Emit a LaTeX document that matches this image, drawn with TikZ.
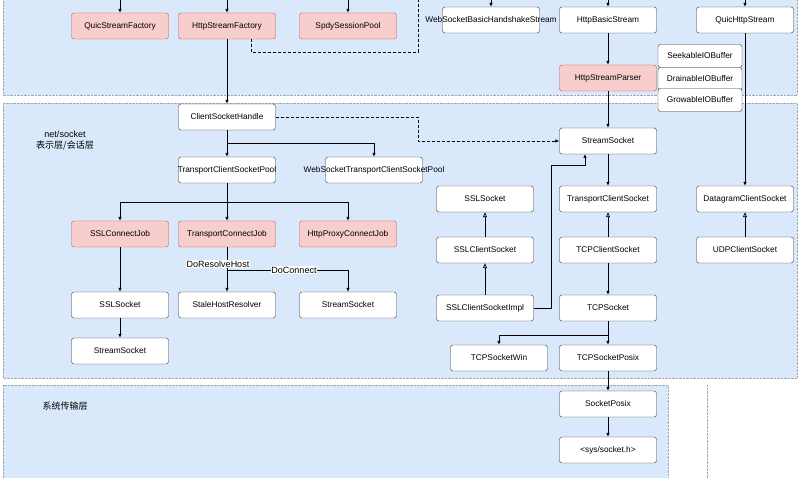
\documentclass[tikz,border=0pt]{standalone}
\usepackage{fontspec}
\setmainfont{Liberation Sans}
\newfontfamily\cjk{Noto Sans CJK SC}
\usetikzlibrary{arrows.meta}
\definecolor{regfill}{HTML}{DAE8FC}
\definecolor{pinkfill}{HTML}{F8CECC}
\definecolor{pinkdraw}{HTML}{B85450}
\begin{document}
\begin{tikzpicture}[x=1pt,y=-1pt,
  region/.style={draw=gray!70,densely dotted,fill=regfill},
  box/.style={draw=black!80,rounded corners=2.5pt,fill=white,minimum width=97pt,minimum height=26pt,inner sep=0pt,font=\fontsize{8.3}{10}\selectfont},
  wide/.style={inner xsep=-40pt},
  sbox/.style={box,minimum width=84pt,minimum height=23pt},
  pbox/.style={box,fill=pinkfill,draw=pinkdraw},
  arr/.style={-{Latex[length=4pt,width=3.5pt]},line width=0.7pt},
  inh/.style={-{Triangle[open,length=5pt,width=4pt]},line width=0.7pt},
  dotline/.style={densely dashed,line width=0.7pt},
  lbl/.style={fill=white,inner sep=0.5pt,font=\fontsize{9}{10}\selectfont}]
\useasboundingbox (0,0) rectangle (800,478);
\fill[white] (0,0) rectangle (800,478);
\draw[region] (3,-2) rectangle (797,95);
\draw[region] (3,103) rectangle (797,378);
\draw[region] (3,385) rectangle (668,480);
\draw[gray!70,densely dotted] (707,385) -- (707,478);

\node[align=center,font=\fontsize{9}{11}\selectfont] (l1) at (65,141) {net/socket\\{\cjk 表示层/会话层}};
\node[font=\cjk\fontsize{9}{11}\selectfont] (l2) at (65,406) {系统传输层};

\coordinate (t1) at (120,0); \coordinate (t2) at (227,0); \coordinate (t3) at (348,0);
\coordinate (t4) at (491,0); \coordinate (t5) at (608,0); \coordinate (t6) at (745,0);
\node[pbox] (qsf) at (120,26) {QuicStreamFactory};
\node[pbox] (hsf) at (227,26) {HttpStreamFactory};
\node[pbox] (ssp) at (348,26) {SpdySessionPool};
\node[box,wide] (wsb) at (491,20) {WebSocketBasicHandshakeStream};
\node[box] (hbs) at (608,20) {HttpBasicStream};
\node[box] (qhs) at (745,20) {QuicHttpStream};
\node[pbox] (hsp) at (608,78) {HttpStreamParser};
\node[sbox] (sio) at (700,56) {SeekableIOBuffer};
\node[sbox] (dio) at (700,79) {DrainableIOBuffer};
\node[sbox] (gio) at (700,100) {GrowableIOBuffer};
\foreach \a/\b in {t1/qsf,t2/hsf,t3/ssp,t4/wsb,t5/hbs,t6/qhs} \draw[arr] (\a) -- (\b);
\coordinate (d1) at (418,0);
\draw[dotline] (251,39) |- (418,52) -- (d1);

\node[box] (csh) at (227,117) {ClientSocketHandle};
\node[box] (ss) at (608,141) {StreamSocket};
\draw[arr] (hsf) -- (csh);
\draw[arr] (hbs) -- (hsp);
\draw[arr] (hsp) -- (ss);
\draw[dotline,-{Latex[length=4pt,width=3.5pt]}] (csh.east) -- (418,117) |- (ss.west);

\node[box,wide] (tcsp) at (227,170) {TransportClientSocketPool};
\node[box,wide] (wtcsp) at (374,170) {WebSocketTransportClientSocketPool};
\draw[arr] (csh) -- (tcsp);
\draw[arr] (csh.south) -- (227,143) -| (wtcsp.north);

\node[pbox] (scj) at (120,234) {SSLConnectJob};
\node[pbox] (tcj) at (227,234) {TransportConnectJob};
\node[pbox] (hpcj) at (348,234) {HttpProxyConnectJob};
\draw[arr] (tcsp) -- (tcj);
\draw[arr] (tcsp.south) -- (227,202) -| (scj.north);
\draw[arr] (227,202) -| (hpcj.north);

\node[box] (sls) at (120,305) {SSLSocket};
\node[box] (shr) at (227,305) {StaleHostResolver};
\node[box] (ss2) at (348,305) {StreamSocket};
\node[box] (ss3) at (120,351) {StreamSocket};
\draw[arr] (scj) -- (sls);
\draw[arr] (sls) -- (ss3);
\draw[arr] (tcj) -- (shr);
\draw[arr] (227,270) -| (ss2.north);
\node[lbl] (lr) at (218,264) {DoResolveHost};
\node[lbl] (lc) at (294,270) {DoConnect};

\node[box] (sslr) at (485,199) {SSLSocket};
\node[box] (tcs) at (608,199) {TransportClientSocket};
\node[box] (dcs) at (745,199) {DatagramClientSocket};
\node[box] (scs) at (485,250) {SSLClientSocket};
\node[box] (tcpc) at (608,250) {TCPClientSocket};
\node[box] (udp) at (745,250) {UDPClientSocket};
\node[box] (scsi) at (485,308) {SSLClientSocketImpl};
\node[box] (tcps) at (608,308) {TCPSocket};
\node[box] (tsw) at (499,358) {TCPSocketWin};
\node[box] (tsp) at (608,358) {TCPSocketPosix};
\node[box] (sp) at (608,404) {SocketPosix};
\node[box] (sys) at (608,450) {<sys/socket.h>};

\draw[arr] (ss) -- (tcs);
\draw[arr] (qhs) -- (dcs);
\draw[inh] (tcpc) -- (tcs);
\draw[inh] (scs) -- (sslr);
\draw[inh] (scsi) -- (scs);
\draw[inh] (udp) -- (dcs);
\draw[arr] (tcpc) -- (tcps);
\draw[arr] (tcps) -- (tsp);
\draw[arr] (tcps.south) -- (608,335) -| (tsw.north);
\draw[arr] (tsp) -- (sp);
\draw[arr] (sp) -- (sys);
\draw[arr] (scsi.east) -- (551,308) -- (551,165) -- (585,165) -- (585,154);
\end{tikzpicture}
\end{document}
